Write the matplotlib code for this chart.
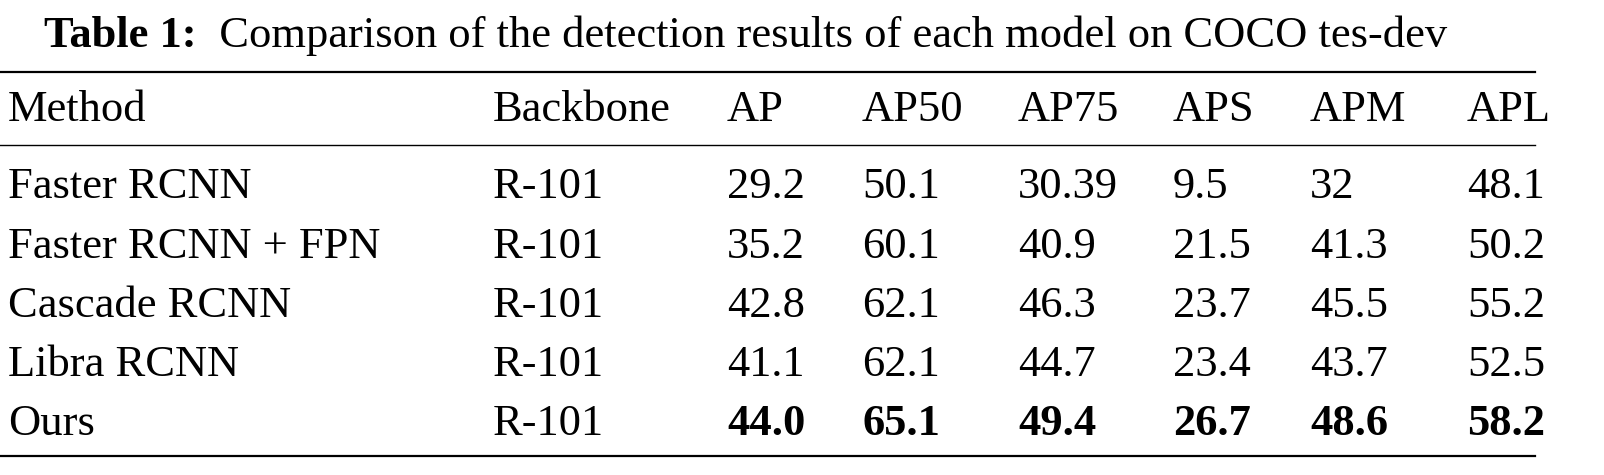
import matplotlib
matplotlib.use("Agg")
import matplotlib.pyplot as plt

methods = ["Faster RCNN", "Faster RCNN + FPN", "Cascade RCNN", "Libra RCNN", "Ours"]
backbones = ["R-101", "R-101", "R-101", "R-101", "R-101"]
columns = ["Method", "Backbone", "AP", "AP50", "AP75", "APS", "APM", "APL"]
AP = ["29.2", "35.2", "42.8", "41.1", "44.0"]
AP50 = ["50.1", "60.1", "62.1", "62.1", "65.1"]
AP75 = ["30.39", "40.9", "46.3", "44.7", "49.4"]
APS = ["9.5", "21.5", "23.7", "23.4", "26.7"]
APM = ["32", "41.3", "45.5", "43.7", "48.6"]
APL = ["48.1", "50.2", "55.2", "52.5", "58.2"]
title_bold = "Table 1:"
title_rest = "  Comparison of the detection results of each model on COCO tes-dev"

W, H = 1604, 475
fig = plt.figure(figsize=(W/100, H/100), dpi=100)
ax = fig.add_axes([0, 0, 1, 1])
ax.set_xlim(0, W); ax.set_ylim(H, 0); ax.axis("off")
fam = ["Liberation Serif", "DejaVu Serif"]
fs = 32

t1 = ax.text(44, 36, title_bold, fontsize=fs, family=fam, weight="bold", va="center")
fig.canvas.draw()
bb = t1.get_window_extent()
ax.text(44 + bb.width, 36, title_rest, fontsize=fs, family=fam, va="center")

for y, lw in [(72, 1.6), (145, 1.0), (456, 1.6)]:
    ax.plot([0, 1535], [y, y], color="black", lw=lw)

xs = [8, 493, 727, 862, 1018, 1173, 1310, 1467]
for x, c in zip(xs, columns):
    ax.text(x, 110, c, fontsize=fs, family=fam, va="center")

rows_y = [187, 247, 306, 365, 424]
cols = [methods, backbones, AP, AP50, AP75, APS, APM, APL]
for i, y in enumerate(rows_y):
    for j, (x, col) in enumerate(zip(xs, cols)):
        bold = (i == len(rows_y) - 1 and j >= 2)
        ax.text(x, y, col[i], fontsize=fs, family=fam, va="center",
                weight="bold" if bold else "normal")

fig.savefig("out.png", dpi=100)
